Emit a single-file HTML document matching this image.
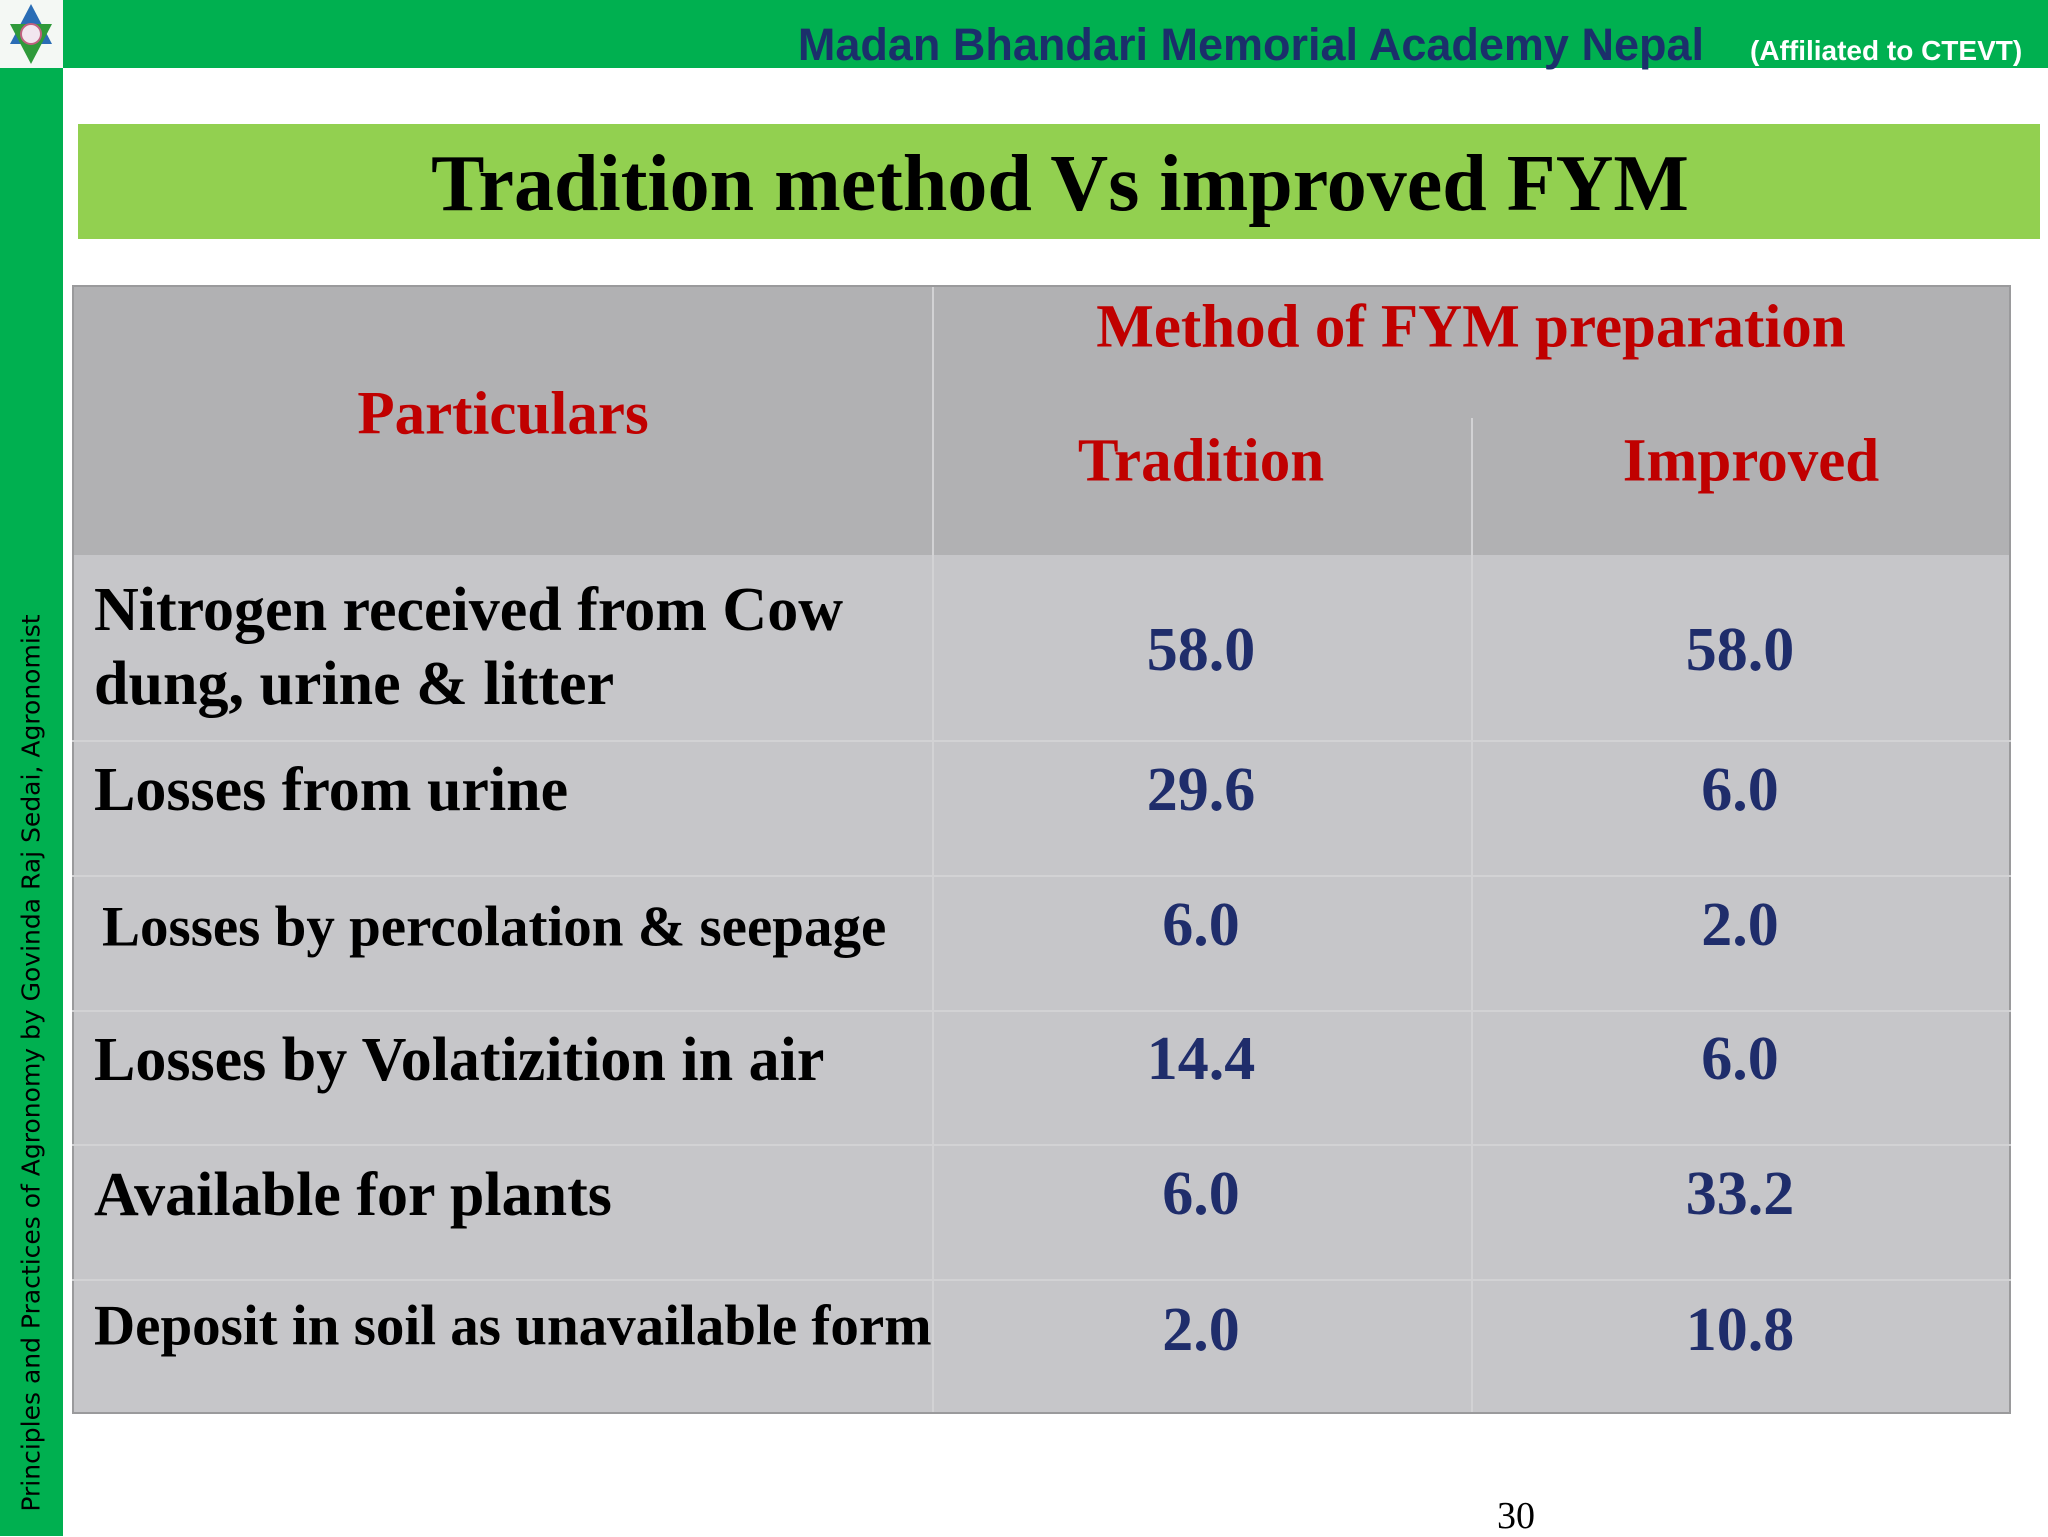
<!DOCTYPE html>
<html><head><meta charset="utf-8">
<style>
body{margin:0;width:2048px;height:1536px;position:relative;overflow:hidden;background:#fff;font-family:"Liberation Serif",serif;}
div{position:absolute;box-sizing:border-box;}
.t{white-space:nowrap;line-height:1;font-weight:bold;}
.h{color:#c00000;font-size:61px;transform:translate(-50%,-50%);}
.lab{color:#000;font-size:62px;left:94px;transform:translateY(-50%);}
.v{color:#1f2d6b;font-size:62px;transform:translate(-50%,-50%);}
.vl{background:#d2d2d4;width:2px;}
.hl{background:#d2d2d4;height:2px;left:72px;width:1939px;}
</style></head><body>
<div style="left:0;top:0;width:2048px;height:68px;background:#00b050;"></div>
<div style="left:0;top:0;width:63px;height:1536px;background:#00b050;"></div>
<div style="left:0;top:0;width:63px;height:68px;background:#f4f8f4;">
<svg width="63" height="68" viewBox="0 0 63 68"><polygon points="31,4 52,44 10,44" fill="#2a6db5"/><polygon points="31,64 52,24 10,24" fill="#2f9a3a"/><circle cx="31" cy="34" r="10" fill="#f2e6ef" stroke="#c06080" stroke-width="2"/></svg></div>
<div class="t" style="right:344px;top:22px;font-family:'Liberation Sans',sans-serif;font-size:45px;color:#1b2f6b;">Madan Bhandari Memorial Academy Nepal</div>
<div class="t" style="left:1750px;top:37px;font-family:'Liberation Sans',sans-serif;font-size:28px;color:#fff;">(Affiliated to CTEVT)</div>
<div style="left:78px;top:124px;width:1962px;height:115px;background:#92d050;"></div>
<div class="t" style="left:1060px;top:184px;transform:translate(-50%,-50%);font-size:80px;color:#000;">Tradition method Vs improved FYM</div>

<div style="left:72px;top:285px;width:1939px;height:1129px;background:#c6c6c9;border:2px solid #9a9a9c;"></div>
<div style="left:74px;top:287px;width:1935px;height:268px;background:#b1b1b3;"></div>
<div class="vl" style="left:932px;top:287px;height:1125px;"></div>
<div class="vl" style="left:1471px;top:418px;height:994px;"></div>
<div class="hl" style="top:740px;"></div>
<div class="hl" style="top:875px;"></div>
<div class="hl" style="top:1010px;"></div>
<div class="hl" style="top:1144px;"></div>
<div class="hl" style="top:1279px;"></div>

<div class="t h" style="left:503px;top:414px;">Particulars</div>
<div class="t h" style="left:1471px;top:327px;">Method of FYM preparation</div>
<div class="t h" style="left:1201px;top:461px;">Tradition</div>
<div class="t h" style="left:1751px;top:461px;">Improved</div>

<div class="t lab" style="top:610px;">Nitrogen received from Cow</div>
<div class="t lab" style="top:684px;">dung, urine &amp; litter</div>
<div class="t lab" style="top:790px;">Losses from urine</div>
<div class="t lab" style="top:927px;left:102px;font-size:57px;">Losses by percolation &amp; seepage</div>
<div class="t lab" style="top:1060px;">Losses by Volatizition in air</div>
<div class="t lab" style="top:1195px;">Available for plants</div>
<div class="t lab" style="top:1326px;font-size:57px;">Deposit in soil as unavailable form</div>

<div class="t v" style="left:1201px;top:650px;">58.0</div>
<div class="t v" style="left:1740px;top:650px;">58.0</div>
<div class="t v" style="left:1201px;top:790px;">29.6</div>
<div class="t v" style="left:1740px;top:790px;">6.0</div>
<div class="t v" style="left:1201px;top:925px;">6.0</div>
<div class="t v" style="left:1740px;top:925px;">2.0</div>
<div class="t v" style="left:1201px;top:1059px;">14.4</div>
<div class="t v" style="left:1740px;top:1059px;">6.0</div>
<div class="t v" style="left:1201px;top:1194px;">6.0</div>
<div class="t v" style="left:1740px;top:1194px;">33.2</div>
<div class="t v" style="left:1201px;top:1330px;">2.0</div>
<div class="t v" style="left:1740px;top:1330px;">10.8</div>

<div class="t" style="left:31px;top:1063px;transform:translate(-50%,-50%) rotate(-90deg);font-family:'DejaVu Sans','Liberation Sans',sans-serif;font-weight:normal;font-size:25px;color:#000;">Principles and Practices of Agronomy by Govinda Raj Sedai, Agronomist</div>
<div class="t" style="left:1516px;top:1516px;transform:translate(-50%,-50%);font-weight:normal;font-size:38px;color:#000;">30</div>
</body></html>
